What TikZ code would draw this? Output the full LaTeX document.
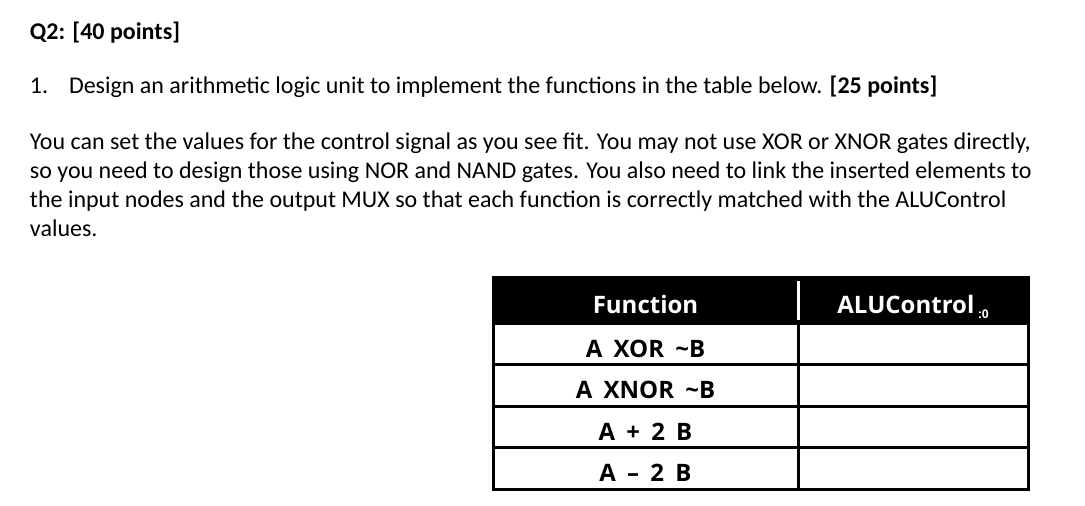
\documentclass[tikz,border=0pt]{standalone}
\usepackage{fontspec}
\setmainfont{Carlito}
\newfontfamily\tabfont[WordSpace=1.8]{Open Sans}
\usetikzlibrary{positioning}
\tikzset{
  txt/.style = {inner sep=0pt, outer sep=0pt, anchor=base west, font=\fontsize{24}{29}\selectfont},
  cell/.style = {draw=black, line width=3pt, fill=white, inner sep=0pt, outer sep=0pt, minimum height=41.5pt, text height=30pt, text depth=3pt, font=\tabfont\bfseries\fontsize{24}{27}\selectfont},
  hcell/.style = {cell, fill=black, text=white, minimum height=46pt},
  fcol/.style = {minimum width=305pt},
  ccol/.style = {minimum width=230pt}
}

\begin{document}
\begin{tikzpicture}[x=1pt, y=-1pt]
\useasboundingbox[fill=white] (0,0) rectangle (1085,506);

% heading and question =============================
\node[txt] (q2) at (30,39) {\textbf{Q2: [40 points]}};
\node[txt] (num1) at (30,93) {1.};
\node[txt] (item1) at (69,93) {Design an arithmetic logic unit to implement the functions in the table below. \textbf{[25 points]}};

% paragraph
\node[txt] (par1) at (30,149) {You can set the values for the control signal as you see fit. You may not use XOR or XNOR gates directly,};
\node[txt] (par2) at ([yshift=-29pt]par1.base west) {so you need to design those using NOR and NAND gates. You also need to link the inserted elements to};
\node[txt] (par3) at ([yshift=-29pt]par2.base west) {the input nodes and the output MUX so that each function is correctly matched with the ALUControl};
\node[txt] (par4) at ([yshift=-29pt]par3.base west) {values.};

% table =============================

% header
\node[hcell, fcol] (hdr1) at (645.5,300) {Function};
\node[hcell, ccol, right=0pt of hdr1] (hdr2) {ALUControl\,{\fontsize{12}{12}\selectfont\raisebox{-5pt}{:0}}};
\draw[white, line width=3pt] ([yshift=-4pt]hdr1.north east) -- ([yshift=3pt]hdr1.south east);

% function column
\node[cell, fcol, below=0pt of hdr1] (fn1) {A XOR \textasciitilde B};
\node[cell, fcol, below=0pt of fn1] (fn2) {A XNOR \textasciitilde B};
\node[cell, fcol, below=0pt of fn2] (fn3) {A + 2 B};
\node[cell, fcol, below=0pt of fn3] (fn4) {A – 2 B};

% control column
\node[cell, ccol, right=0pt of fn1] (ctl1) {};
\node[cell, ccol, right=0pt of fn2] (ctl2) {};
\node[cell, ccol, right=0pt of fn3] (ctl3) {};
\node[cell, ccol, right=0pt of fn4] (ctl4) {};

\end{tikzpicture}
\end{document}
